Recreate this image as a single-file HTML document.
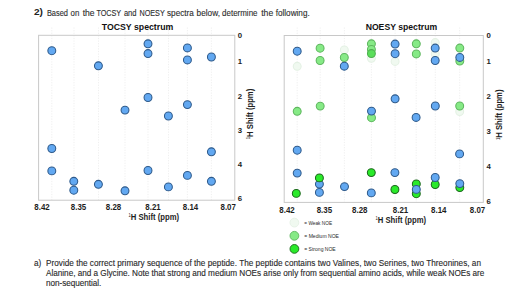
<!DOCTYPE html>
<html><head><meta charset="utf-8"><style>
html,body{margin:0;padding:0;background:#fff;width:516px;height:305px;overflow:hidden;position:relative}
svg text{font-family:"Liberation Sans", sans-serif}
</style></head><body>
<svg width="516" height="305" viewBox="0 0 516 305" style="position:absolute;left:0;top:0"><text x="34.0" y="15.1" font-size="9.0" font-weight="bold" text-anchor="start" fill="#222" textLength="9.0" lengthAdjust="spacingAndGlyphs" >2)</text><text x="46.90" y="15.7" font-size="8.6" font-weight="normal" fill="#2e2e2e" stroke="#2e2e2e" stroke-width="0.12" textLength="21.10" lengthAdjust="spacingAndGlyphs">Based</text><text x="70.60" y="15.7" font-size="8.6" font-weight="normal" fill="#2e2e2e" stroke="#2e2e2e" stroke-width="0.12" textLength="8.70" lengthAdjust="spacingAndGlyphs">on</text><text x="82.70" y="15.7" font-size="8.6" font-weight="normal" fill="#2e2e2e" stroke="#2e2e2e" stroke-width="0.12" textLength="11.90" lengthAdjust="spacingAndGlyphs">the</text><text x="96.40" y="15.7" font-size="8.6" font-weight="normal" fill="#2e2e2e" stroke="#2e2e2e" stroke-width="0.12" textLength="24.80" lengthAdjust="spacingAndGlyphs">TOCSY</text><text x="123.90" y="15.7" font-size="8.6" font-weight="normal" fill="#2e2e2e" stroke="#2e2e2e" stroke-width="0.12" textLength="12.70" lengthAdjust="spacingAndGlyphs">and</text><text x="139.40" y="15.7" font-size="8.6" font-weight="normal" fill="#2e2e2e" stroke="#2e2e2e" stroke-width="0.12" textLength="25.40" lengthAdjust="spacingAndGlyphs">NOESY</text><text x="167.00" y="15.7" font-size="8.6" font-weight="normal" fill="#2e2e2e" stroke="#2e2e2e" stroke-width="0.12" textLength="26.79" lengthAdjust="spacingAndGlyphs">spectra</text><text x="196.60" y="15.7" font-size="8.6" font-weight="normal" fill="#2e2e2e" stroke="#2e2e2e" stroke-width="0.12" textLength="23.40" lengthAdjust="spacingAndGlyphs">below,</text><text x="222.10" y="15.7" font-size="8.6" font-weight="normal" fill="#2e2e2e" stroke="#2e2e2e" stroke-width="0.12" textLength="35.40" lengthAdjust="spacingAndGlyphs">determine</text><text x="261.20" y="15.7" font-size="8.6" font-weight="normal" fill="#2e2e2e" stroke="#2e2e2e" stroke-width="0.12" textLength="12.00" lengthAdjust="spacingAndGlyphs">the</text><text x="275.70" y="15.7" font-size="8.6" font-weight="normal" fill="#2e2e2e" stroke="#2e2e2e" stroke-width="0.12" textLength="34.00" lengthAdjust="spacingAndGlyphs">following.</text><line x1="51.8" y1="27.5" x2="51.8" y2="200.2" stroke="#ebebeb" stroke-width="0.8" stroke-dasharray="1.2,1.4"/><line x1="74" y1="27.5" x2="74" y2="200.2" stroke="#ebebeb" stroke-width="0.8" stroke-dasharray="1.2,1.4"/><line x1="98.5" y1="27.5" x2="98.5" y2="200.2" stroke="#ebebeb" stroke-width="0.8" stroke-dasharray="1.2,1.4"/><line x1="125" y1="27.5" x2="125" y2="200.2" stroke="#ebebeb" stroke-width="0.8" stroke-dasharray="1.2,1.4"/><line x1="148" y1="27.5" x2="148" y2="200.2" stroke="#ebebeb" stroke-width="0.8" stroke-dasharray="1.2,1.4"/><line x1="168.5" y1="27.5" x2="168.5" y2="200.2" stroke="#ebebeb" stroke-width="0.8" stroke-dasharray="1.2,1.4"/><line x1="187.4" y1="27.5" x2="187.4" y2="200.2" stroke="#ebebeb" stroke-width="0.8" stroke-dasharray="1.2,1.4"/><line x1="211.4" y1="27.5" x2="211.4" y2="200.2" stroke="#ebebeb" stroke-width="0.8" stroke-dasharray="1.2,1.4"/><rect x="38.6" y="35.3" width="196.20000000000002" height="164.89999999999998" fill="none" stroke="#c8c8c8" stroke-width="1"/><text x="137.5" y="30.4" font-size="9.8" font-weight="bold" text-anchor="middle" fill="#111" textLength="71.5" lengthAdjust="spacingAndGlyphs" >TOCSY spectrum</text><text x="240" y="38.300000000000004" font-size="7.8" font-weight="bold" text-anchor="middle" fill="#222" >0</text><text x="240" y="64.0" font-size="7.8" font-weight="bold" text-anchor="middle" fill="#222" >1</text><text x="240" y="98.7" font-size="7.8" font-weight="bold" text-anchor="middle" fill="#222" >2</text><text x="240" y="132.7" font-size="7.8" font-weight="bold" text-anchor="middle" fill="#222" >3</text><text x="240" y="166.89999999999998" font-size="7.8" font-weight="bold" text-anchor="middle" fill="#222" >4</text><text x="240" y="200.6" font-size="7.8" font-weight="bold" text-anchor="middle" fill="#222" >6</text><g transform="translate(250.0,114.0) rotate(-90)"><text x="0" y="2.9" font-size="8.4" font-weight="bold" text-anchor="middle" fill="#222" textLength="50.5" lengthAdjust="spacingAndGlyphs" ><tspan font-size="4.6" font-weight="normal" dy="-2.6">1</tspan><tspan dy="2.6">H Shift (ppm)</tspan></text></g><text x="42" y="210.0" font-size="8.2" font-weight="bold" text-anchor="middle" fill="#1e1e1e" textLength="15.4" lengthAdjust="spacingAndGlyphs" >8.42</text><text x="78.5" y="210.0" font-size="8.2" font-weight="bold" text-anchor="middle" fill="#1e1e1e" textLength="15.4" lengthAdjust="spacingAndGlyphs" >8.35</text><text x="113.5" y="210.0" font-size="8.2" font-weight="bold" text-anchor="middle" fill="#1e1e1e" textLength="15.4" lengthAdjust="spacingAndGlyphs" >8.28</text><text x="153" y="210.0" font-size="8.2" font-weight="bold" text-anchor="middle" fill="#1e1e1e" textLength="15.4" lengthAdjust="spacingAndGlyphs" >8.21</text><text x="190.5" y="210.0" font-size="8.2" font-weight="bold" text-anchor="middle" fill="#1e1e1e" textLength="15.4" lengthAdjust="spacingAndGlyphs" >8.14</text><text x="228.2" y="210.0" font-size="8.2" font-weight="bold" text-anchor="middle" fill="#1e1e1e" textLength="15.4" lengthAdjust="spacingAndGlyphs" >8.07</text><text x="153.8" y="219.5" font-size="8.9" font-weight="bold" text-anchor="middle" fill="#1e1e1e" textLength="50.5" lengthAdjust="spacingAndGlyphs" ><tspan font-size="4.6" font-weight="normal" dy="-2.6">1</tspan><tspan dy="2.6">H Shift (ppm)</tspan></text><circle cx="51.8" cy="50.7" r="3.95" fill="#62a8f1" stroke="#2f5a8a" stroke-width="1.05"/><circle cx="51.8" cy="148.5" r="3.95" fill="#62a8f1" stroke="#2f5a8a" stroke-width="1.05"/><circle cx="51.8" cy="170.9" r="3.95" fill="#62a8f1" stroke="#2f5a8a" stroke-width="1.05"/><circle cx="73.8" cy="181.3" r="3.95" fill="#62a8f1" stroke="#2f5a8a" stroke-width="1.05"/><circle cx="73.8" cy="190.2" r="3.95" fill="#62a8f1" stroke="#2f5a8a" stroke-width="1.05"/><circle cx="98.4" cy="65.8" r="3.95" fill="#62a8f1" stroke="#2f5a8a" stroke-width="1.05"/><circle cx="98.4" cy="184.3" r="3.95" fill="#62a8f1" stroke="#2f5a8a" stroke-width="1.05"/><circle cx="125" cy="110.1" r="3.95" fill="#62a8f1" stroke="#2f5a8a" stroke-width="1.05"/><circle cx="125" cy="190.8" r="3.95" fill="#62a8f1" stroke="#2f5a8a" stroke-width="1.05"/><circle cx="148" cy="43.8" r="3.95" fill="#62a8f1" stroke="#2f5a8a" stroke-width="1.05"/><circle cx="148" cy="53.6" r="3.95" fill="#62a8f1" stroke="#2f5a8a" stroke-width="1.05"/><circle cx="148" cy="97.5" r="3.95" fill="#62a8f1" stroke="#2f5a8a" stroke-width="1.05"/><circle cx="148" cy="170.5" r="3.95" fill="#62a8f1" stroke="#2f5a8a" stroke-width="1.05"/><circle cx="168.4" cy="116" r="3.95" fill="#62a8f1" stroke="#2f5a8a" stroke-width="1.05"/><circle cx="168.4" cy="186.9" r="3.95" fill="#62a8f1" stroke="#2f5a8a" stroke-width="1.05"/><circle cx="187.4" cy="47.9" r="3.95" fill="#62a8f1" stroke="#2f5a8a" stroke-width="1.05"/><circle cx="187.4" cy="59.9" r="3.95" fill="#62a8f1" stroke="#2f5a8a" stroke-width="1.05"/><circle cx="187.4" cy="104.6" r="3.95" fill="#62a8f1" stroke="#2f5a8a" stroke-width="1.05"/><circle cx="187.4" cy="175.4" r="3.95" fill="#62a8f1" stroke="#2f5a8a" stroke-width="1.05"/><circle cx="211.4" cy="57" r="3.95" fill="#62a8f1" stroke="#2f5a8a" stroke-width="1.05"/><circle cx="211.4" cy="151.8" r="3.95" fill="#62a8f1" stroke="#2f5a8a" stroke-width="1.05"/><circle cx="211.4" cy="181.3" r="3.95" fill="#62a8f1" stroke="#2f5a8a" stroke-width="1.05"/><line x1="297.2" y1="27.5" x2="297.2" y2="202.4" stroke="#ebebeb" stroke-width="0.8" stroke-dasharray="1.2,1.4"/><line x1="320.2" y1="27.5" x2="320.2" y2="202.4" stroke="#ebebeb" stroke-width="0.8" stroke-dasharray="1.2,1.4"/><line x1="344.4" y1="27.5" x2="344.4" y2="202.4" stroke="#ebebeb" stroke-width="0.8" stroke-dasharray="1.2,1.4"/><line x1="371.4" y1="27.5" x2="371.4" y2="202.4" stroke="#ebebeb" stroke-width="0.8" stroke-dasharray="1.2,1.4"/><line x1="395.1" y1="27.5" x2="395.1" y2="202.4" stroke="#ebebeb" stroke-width="0.8" stroke-dasharray="1.2,1.4"/><line x1="416.2" y1="27.5" x2="416.2" y2="202.4" stroke="#ebebeb" stroke-width="0.8" stroke-dasharray="1.2,1.4"/><line x1="435.3" y1="27.5" x2="435.3" y2="202.4" stroke="#ebebeb" stroke-width="0.8" stroke-dasharray="1.2,1.4"/><line x1="459.7" y1="27.5" x2="459.7" y2="202.4" stroke="#ebebeb" stroke-width="0.8" stroke-dasharray="1.2,1.4"/><rect x="284.2" y="35.5" width="199.10000000000002" height="166.9" fill="none" stroke="#c8c8c8" stroke-width="1"/><text x="401.4" y="30.4" font-size="9.8" font-weight="bold" text-anchor="middle" fill="#111" textLength="71.5" lengthAdjust="spacingAndGlyphs" >NOESY spectrum</text><text x="488.7" y="38.1" font-size="7.8" font-weight="bold" text-anchor="middle" fill="#222" >0</text><text x="488.7" y="64.4" font-size="7.8" font-weight="bold" text-anchor="middle" fill="#222" >1</text><text x="488.7" y="99.2" font-size="7.8" font-weight="bold" text-anchor="middle" fill="#222" >2</text><text x="488.7" y="134.0" font-size="7.8" font-weight="bold" text-anchor="middle" fill="#222" >3</text><text x="488.7" y="169.2" font-size="7.8" font-weight="bold" text-anchor="middle" fill="#222" >4</text><text x="488.7" y="203.6" font-size="7.8" font-weight="bold" text-anchor="middle" fill="#222" >6</text><g transform="translate(499.4,114.8) rotate(-90)"><text x="0" y="2.9" font-size="8.4" font-weight="bold" text-anchor="middle" fill="#222" textLength="50.5" lengthAdjust="spacingAndGlyphs" ><tspan font-size="4.6" font-weight="normal" dy="-2.6">1</tspan><tspan dy="2.6">H Shift (ppm)</tspan></text></g><text x="287" y="212.7" font-size="8.2" font-weight="bold" text-anchor="middle" fill="#1e1e1e" textLength="15.4" lengthAdjust="spacingAndGlyphs" >8.42</text><text x="324.4" y="212.7" font-size="8.2" font-weight="bold" text-anchor="middle" fill="#1e1e1e" textLength="15.4" lengthAdjust="spacingAndGlyphs" >8.35</text><text x="359.8" y="212.7" font-size="8.2" font-weight="bold" text-anchor="middle" fill="#1e1e1e" textLength="15.4" lengthAdjust="spacingAndGlyphs" >8.28</text><text x="400.5" y="212.7" font-size="8.2" font-weight="bold" text-anchor="middle" fill="#1e1e1e" textLength="15.4" lengthAdjust="spacingAndGlyphs" >8.21</text><text x="438.8" y="212.7" font-size="8.2" font-weight="bold" text-anchor="middle" fill="#1e1e1e" textLength="15.4" lengthAdjust="spacingAndGlyphs" >8.14</text><text x="477.5" y="212.7" font-size="8.2" font-weight="bold" text-anchor="middle" fill="#1e1e1e" textLength="15.4" lengthAdjust="spacingAndGlyphs" >8.07</text><text x="400.8" y="222.7" font-size="8.9" font-weight="bold" text-anchor="middle" fill="#1e1e1e" textLength="50.5" lengthAdjust="spacingAndGlyphs" ><tspan font-size="4.6" font-weight="normal" dy="-2.6">1</tspan><tspan dy="2.6">H Shift (ppm)</tspan></text><circle cx="297.2" cy="66.3" r="3.95" fill="#f0f9f0" stroke="#e4f1e4" stroke-width="1.05"/><circle cx="297.2" cy="51.2" r="3.95" fill="#62a8f1" stroke="#2f5a8a" stroke-width="1.05"/><circle cx="297.2" cy="111.3" r="3.95" fill="#86ea86" stroke="#5fb65f" stroke-width="1.05"/><circle cx="297.2" cy="150.2" r="3.95" fill="#62a8f1" stroke="#2f5a8a" stroke-width="1.05"/><circle cx="297.2" cy="173.1" r="3.95" fill="#62a8f1" stroke="#2f5a8a" stroke-width="1.05"/><circle cx="296.3" cy="193.4" r="3.95" fill="#2aea2a" stroke="#1c681c" stroke-width="1.05"/><circle cx="320.1" cy="48.2" r="3.95" fill="#86ea86" stroke="#5fb65f" stroke-width="1.05"/><circle cx="320.1" cy="60.5" r="3.95" fill="#86ea86" stroke="#5fb65f" stroke-width="1.05"/><circle cx="320.2" cy="106.1" r="3.95" fill="#86ea86" stroke="#5fb65f" stroke-width="1.05"/><circle cx="319.4" cy="184.1" r="3.95" fill="#62a8f1" stroke="#2f5a8a" stroke-width="1.05"/><circle cx="319.4" cy="192.4" r="3.95" fill="#62a8f1" stroke="#2f5a8a" stroke-width="1.05"/><circle cx="319.4" cy="177.9" r="3.95" fill="#2aea2a" stroke="#1c681c" stroke-width="1.05"/><circle cx="344.3" cy="50" r="3.95" fill="#f0f9f0" stroke="#e4f1e4" stroke-width="1.05"/><circle cx="344.3" cy="57.5" r="3.95" fill="#86ea86" stroke="#5fb65f" stroke-width="1.05"/><circle cx="344.3" cy="66.2" r="3.95" fill="#62a8f1" stroke="#2f5a8a" stroke-width="1.05"/><circle cx="344.5" cy="186.6" r="3.95" fill="#62a8f1" stroke="#2f5a8a" stroke-width="1.05"/><circle cx="371.4" cy="58.3" r="3.95" fill="#f0f9f0" stroke="#e4f1e4" stroke-width="1.05"/><circle cx="371.4" cy="43.8" r="3.95" fill="#86ea86" stroke="#5fb65f" stroke-width="1.05"/><circle cx="371.4" cy="49.5" r="3.95" fill="#86ea86" stroke="#5fb65f" stroke-width="1.05"/><circle cx="371.4" cy="53.6" r="3.95" fill="#5ade5a" stroke="#4fae4f" stroke-width="1.05"/><circle cx="371.5" cy="117.7" r="3.95" fill="#86ea86" stroke="#5fb65f" stroke-width="1.05"/><circle cx="371.5" cy="111.1" r="3.95" fill="#62a8f1" stroke="#2f5a8a" stroke-width="1.05"/><circle cx="371.3" cy="172.6" r="3.95" fill="#2aea2a" stroke="#1c681c" stroke-width="1.05"/><circle cx="371.3" cy="192.9" r="3.95" fill="#62a8f1" stroke="#2f5a8a" stroke-width="1.05"/><circle cx="395.1" cy="61.4" r="3.95" fill="#f0f9f0" stroke="#e4f1e4" stroke-width="1.05"/><circle cx="395.1" cy="44.1" r="3.95" fill="#62a8f1" stroke="#2f5a8a" stroke-width="1.05"/><circle cx="395.1" cy="53.7" r="3.95" fill="#62a8f1" stroke="#2f5a8a" stroke-width="1.05"/><circle cx="395.1" cy="98.8" r="3.95" fill="#62a8f1" stroke="#2f5a8a" stroke-width="1.05"/><circle cx="394.9" cy="172.6" r="3.95" fill="#62a8f1" stroke="#2f5a8a" stroke-width="1.05"/><circle cx="394.9" cy="189.5" r="3.95" fill="#2aea2a" stroke="#1c681c" stroke-width="1.05"/><circle cx="416.3" cy="43.8" r="3.95" fill="#86ea86" stroke="#5fb65f" stroke-width="1.05"/><circle cx="416.3" cy="53.9" r="3.95" fill="#86ea86" stroke="#5fb65f" stroke-width="1.05"/><circle cx="416.1" cy="117.4" r="3.95" fill="#62a8f1" stroke="#2f5a8a" stroke-width="1.05"/><circle cx="416.3" cy="183.9" r="3.95" fill="#2aea2a" stroke="#1c681c" stroke-width="1.05"/><circle cx="416.3" cy="193.7" r="3.95" fill="#2aea2a" stroke="#1c681c" stroke-width="1.05"/><circle cx="416.3" cy="189.4" r="3.95" fill="#62a8f1" stroke="#2f5a8a" stroke-width="1.05"/><circle cx="435.2" cy="42.6" r="3.95" fill="#f0f9f0" stroke="#e4f1e4" stroke-width="1.05"/><circle cx="435.2" cy="53.9" r="3.95" fill="#f0f9f0" stroke="#e4f1e4" stroke-width="1.05"/><circle cx="435.2" cy="48.1" r="3.95" fill="#62a8f1" stroke="#2f5a8a" stroke-width="1.05"/><circle cx="435.2" cy="60.5" r="3.95" fill="#62a8f1" stroke="#2f5a8a" stroke-width="1.05"/><circle cx="435.3" cy="106" r="3.95" fill="#62a8f1" stroke="#2f5a8a" stroke-width="1.05"/><circle cx="435.2" cy="184.5" r="3.95" fill="#2aea2a" stroke="#1c681c" stroke-width="1.05"/><circle cx="435.2" cy="177.5" r="3.95" fill="#62a8f1" stroke="#2f5a8a" stroke-width="1.05"/><circle cx="459.8" cy="61" r="3.95" fill="#86ea86" stroke="#5fb65f" stroke-width="1.05"/><circle cx="459.8" cy="48.1" r="3.95" fill="#86ea86" stroke="#5fb65f" stroke-width="1.05"/><circle cx="459.8" cy="57.4" r="3.95" fill="#62a8f1" stroke="#2f5a8a" stroke-width="1.05"/><circle cx="459.7" cy="111.5" r="3.95" fill="#f0f9f0" stroke="#e4f1e4" stroke-width="1.05"/><circle cx="459.7" cy="106" r="3.95" fill="#86ea86" stroke="#5fb65f" stroke-width="1.05"/><circle cx="459.6" cy="153.9" r="3.95" fill="#62a8f1" stroke="#2f5a8a" stroke-width="1.05"/><circle cx="459.8" cy="187.6" r="3.95" fill="#2aea2a" stroke="#1c681c" stroke-width="1.05"/><circle cx="459.8" cy="183.6" r="3.95" fill="#62a8f1" stroke="#2f5a8a" stroke-width="1.05"/><circle cx="294.4" cy="222.6" r="4.4" fill="#f0f9f0" stroke="#e4f1e4" stroke-width="0.9"/><text x="304.3" y="224.6" font-size="5.8" font-weight="normal" text-anchor="start" fill="#2a2a2a" textLength="27.8" lengthAdjust="spacingAndGlyphs" >= Weak NOE</text><circle cx="294.4" cy="235.8" r="4.4" fill="#86ea86" stroke="#5fb65f" stroke-width="0.9"/><text x="304.3" y="237.8" font-size="5.8" font-weight="normal" text-anchor="start" fill="#2a2a2a" textLength="34.7" lengthAdjust="spacingAndGlyphs" >= Medium NOE</text><circle cx="294.4" cy="248.9" r="4.4" fill="#2aea2a" stroke="#1c681c" stroke-width="0.9"/><text x="304.3" y="250.9" font-size="5.8" font-weight="normal" text-anchor="start" fill="#2a2a2a" textLength="31.4" lengthAdjust="spacingAndGlyphs" >= Strong NOE</text><text x="34" y="265.8" font-size="8.2" font-weight="normal" text-anchor="start" fill="#2a2a2a" stroke="#2a2a2a" stroke-width="0.12">a)</text><text x="46" y="265.70000000000005" font-size="8.2" font-weight="normal" text-anchor="start" fill="#2a2a2a" textLength="435" lengthAdjust="spacing" stroke="#2a2a2a" stroke-width="0.12">Provide the correct primary sequence of the peptide. The peptide contains two Valines, two Serines, two Threonines, an</text><text x="46" y="276.0" font-size="8.2" font-weight="normal" text-anchor="start" fill="#2a2a2a" textLength="438.3" lengthAdjust="spacing" stroke="#2a2a2a" stroke-width="0.12">Alanine, and a Glycine. Note that strong and medium NOEs arise only from sequential amino acids, while weak NOEs are</text><text x="46" y="286.0" font-size="8.2" font-weight="normal" text-anchor="start" fill="#2a2a2a" textLength="55.4" lengthAdjust="spacing" stroke="#2a2a2a" stroke-width="0.12">non-sequential.</text></svg>
</body></html>
